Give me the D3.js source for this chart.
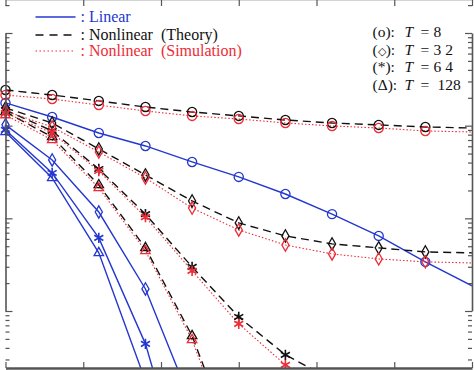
<!DOCTYPE html>
<html>
<meta charset="utf-8">
<script src="https://d3js.org/d3.v7.min.js"></script>
<style>
  body { margin: 0; background: #fff; }
  svg { display: block; font-family: "Liberation Serif", "Times New Roman", serif; }
</style>
<body>
<div id="my_dataviz"></div>
<script>

// x positions of the samples (the last one sits on the right frame)
var xs = [0, 3, 6, 9, 12, 15, 18, 21, 24, 27, 30];

// linear model (blue, solid)
var linearT8   = [0.0176, 0.0124, 0.00834, 0.00604, 0.00406, 0.0028, 0.00183, 0.00111, 0.000646, 0.000339, 0.000187];
var linearT32  = [0.0102, 0.00427, 0.00117, 0.000173, 9.7e-6];
var linearT64  = [0.0090, 0.00309, 0.000615, 4.42e-5, 8.3e-7];
var linearT128 = [0.00855, 0.00273, 0.000424, 1.76e-5];

// nonlinear theory (black, dashed)
var theoryT8   = [0.0243, 0.0214, 0.0185, 0.0159, 0.01406, 0.01274, 0.01151, 0.01069, 0.01019, 0.00968, 0.00944];
var theoryT32  = [0.01552, 0.01069, 0.00561, 0.00294, 0.00154, 0.000892, 0.000646, 0.00053, 0.00048, 0.000434, 0.000424];
var theoryT64  = [0.01476, 0.00877, 0.00341, 0.00111, 0.000299, 8.63e-5, 3.36e-5, 1.81e-5];
var theoryT128 = [0.01406, 0.00755, 0.00229, 0.00048, 5.39e-5, 2.54e-6];

// nonlinear simulation (red, dotted)
var simT8   = [0.0214, 0.0194, 0.0167, 0.0144, 0.01274, 0.0118, 0.0107, 0.00993, 0.00944, 0.00877, 0.00855];
var simT32  = [0.0144, 0.00968, 0.0052, 0.00273, 0.00129, 0.00075, 0.000516, 0.000413, 0.000365, 0.000339, 0.00033];
var simT64  = [0.0137, 0.00834, 0.00324, 0.00103, 0.000271, 7.26e-5, 2.62e-5, 1.24e-5];
var simT128 = [0.01303, 0.00701, 0.00213, 0.000445, 4.88e-5, 2.19e-6];

var legendLabels = [": Linear", ": Nonlinear  (Theory)", ": Nonlinear  (Simulation)"];
var markerLabels = [["o", "8"], ["\u25C7", "3 2"], ["*", "6 4"], ["\u0394", " 128"]];
var xTicks = [0, 5, 10, 15, 20, 25, 30];

var blue = "#2438d0", red = "#ee2b36", black = "#111";

var margin = {top: 0, right: 2, bottom: 2, left: 5.5},
    width = 474 - margin.left - margin.right,
    height = 370 - margin.top - margin.bottom;

var svg = d3.select("#my_dataviz")
  .append("svg")
    .attr("width", 474)
    .attr("height", 370)
  .append("g")
    .attr("transform", "translate(" + margin.left + "," + margin.top + ")");

var x = d3.scaleLinear().domain([0, 30]).range([0, width]);
// one decade is about 92.7 px
var y = d3.scaleLog().domain([1e-4, 1e-1]).range([311, 33]);

svg.append("clipPath").attr("id", "clipLines")
  .append("rect").attr("x", 0).attr("y", 0).attr("width", width).attr("height", height);
svg.append("clipPath").attr("id", "clipMarks")
  .append("rect").attr("x", -10).attr("y", -10).attr("width", width + 10).attr("height", height + 10);

var series = [
  {v: linearT8,   c: blue,  dash: null,    shape: "o"},
  {v: linearT32,  c: blue,  dash: null,    shape: "d"},
  {v: linearT64,  c: blue,  dash: null,    shape: "s"},
  {v: linearT128, c: blue,  dash: null,    shape: "t"},
  {v: theoryT8,   c: black, dash: "8,5",   shape: "o"},
  {v: theoryT32,  c: black, dash: "8,5",   shape: "d"},
  {v: theoryT64,  c: black, dash: "8,5",   shape: "s"},
  {v: theoryT128, c: black, dash: "8,5",   shape: "t"},
  {v: simT8,      c: red,   dash: "1.5,2", shape: "o"},
  {v: simT32,     c: red,   dash: "1.5,2", shape: "d"},
  {v: simT64,     c: red,   dash: "1.5,2", shape: "s"},
  {v: simT128,    c: red,   dash: "1.5,2", shape: "t"}
];

var symbols = {
  o: d3.symbol().type(d3.symbolCircle).size(66),
  d: d3.symbol().type(d3.symbolDiamond).size(44),
  s: d3.symbol().type(d3.symbolAsterisk).size(76),
  t: d3.symbol().type(d3.symbolTriangle2).size(64)
};

var line = d3.line()
  .x(function(d) { return x(d.x); })
  .y(function(d) { return y(d.y); });

var lineLayer = svg.append("g").attr("clip-path", "url(#clipLines)");
var markLayer = svg.append("g").attr("clip-path", "url(#clipMarks)");

series.forEach(function(s) {
  var pts = s.v.map(function(v, i) { return {x: xs[i], y: v}; });
  lineLayer.append("path")
    .datum(pts)
    .attr("d", line)
    .attr("fill", "none")
    .attr("stroke", s.c)
    .attr("stroke-width", s.c == red ? 1.1 : 1.4)
    .attr("stroke-dasharray", s.dash);
  markLayer.selectAll(null)
    .data(pts.filter(function(d) { return d.x < 30; }))
    .enter()
    .append("path")
    .attr("transform", function(d) { return "translate(" + x(d.x) + "," + y(d.y) + ")"; })
    .attr("d", symbols[s.shape])
    .attr("fill", "none")
    .attr("stroke", s.c)
    .attr("stroke-width", s.shape == "s" ? 1.6 : 1.3);
});

// frame and ticks
var axisColor = "#555";
var yTickVals = y.copy().domain([y.invert(height), y.invert(0)]).ticks();
var isMajor = function(v) { return Math.abs(Math.log10(v) - Math.round(Math.log10(v))) < 1e-6; };

var left = svg.append("g").call(d3.axisRight(y).tickValues(yTickVals).tickFormat("").tickSizeOuter(0));
var right = svg.append("g").attr("transform", "translate(" + width + ",0)")
  .call(d3.axisLeft(y).tickValues(yTickVals).tickFormat("").tickSizeOuter(0));
[left, right].forEach(function(g, k) {
  g.selectAll(".tick line").attr("x2", function(d) { return (k ? -1 : 1) * (isMajor(d) ? 7 : 4); });
});
var bottom = svg.append("g").attr("transform", "translate(0," + height + ")")
  .call(d3.axisTop(x).tickValues(xTicks).tickFormat("").tickSize(6).tickSizeOuter(0));
var top = svg.append("g").attr("transform", "translate(0,-1)")
  .call(d3.axisBottom(x).tickValues(xTicks).tickFormat("").tickSize(7).tickSizeOuter(0));
svg.selectAll(".domain").attr("stroke", axisColor).attr("stroke-width", 1.6);
svg.selectAll(".tick line").attr("stroke", axisColor).attr("stroke-width", 1.2);
bottom.select(".domain").attr("stroke-width", 2.4);

// legend (line styles)
var leg = svg.append("g");
[blue, black, red].forEach(function(c, i) {
  var yy = [17, 35, 51][i];
  leg.append("line")
    .attr("x1", 30).attr("x2", 70).attr("y1", yy).attr("y2", yy)
    .attr("stroke", c)
    .attr("stroke-width", i == 2 ? 1.1 : 1.3)
    .attr("stroke-dasharray", [null, "8,6", "1.5,2.5"][i]);
  leg.append("text")
    .attr("x", 75).attr("y", yy + 5)
    .attr("fill", c)
    .style("font-size", "16px")
    .style("white-space", "pre")
    .attr("xml:space", "preserve")
    .text(legendLabels[i]);
});

// legend (markers)
markerLabels.forEach(function(m, i) {
  var t = leg.append("text")
    .attr("x", 367).attr("y", 37 + i * 17.7)
    .style("font-size", "15.5px")
    .style("white-space", "pre")
    .attr("fill", black);
  t.append("tspan").text("(");
  t.append("tspan").style("font-size", i == 1 ? "11px" : null).text(m[0]);
  t.append("tspan").text("):");
  t.append("tspan").attr("x", 399).style("font-style", "italic").text("T");
  t.append("tspan").attr("x", 415).text("=");
  t.append("tspan").attr("x", 428).text(m[1]);
});

</script>
</body>
</html>
